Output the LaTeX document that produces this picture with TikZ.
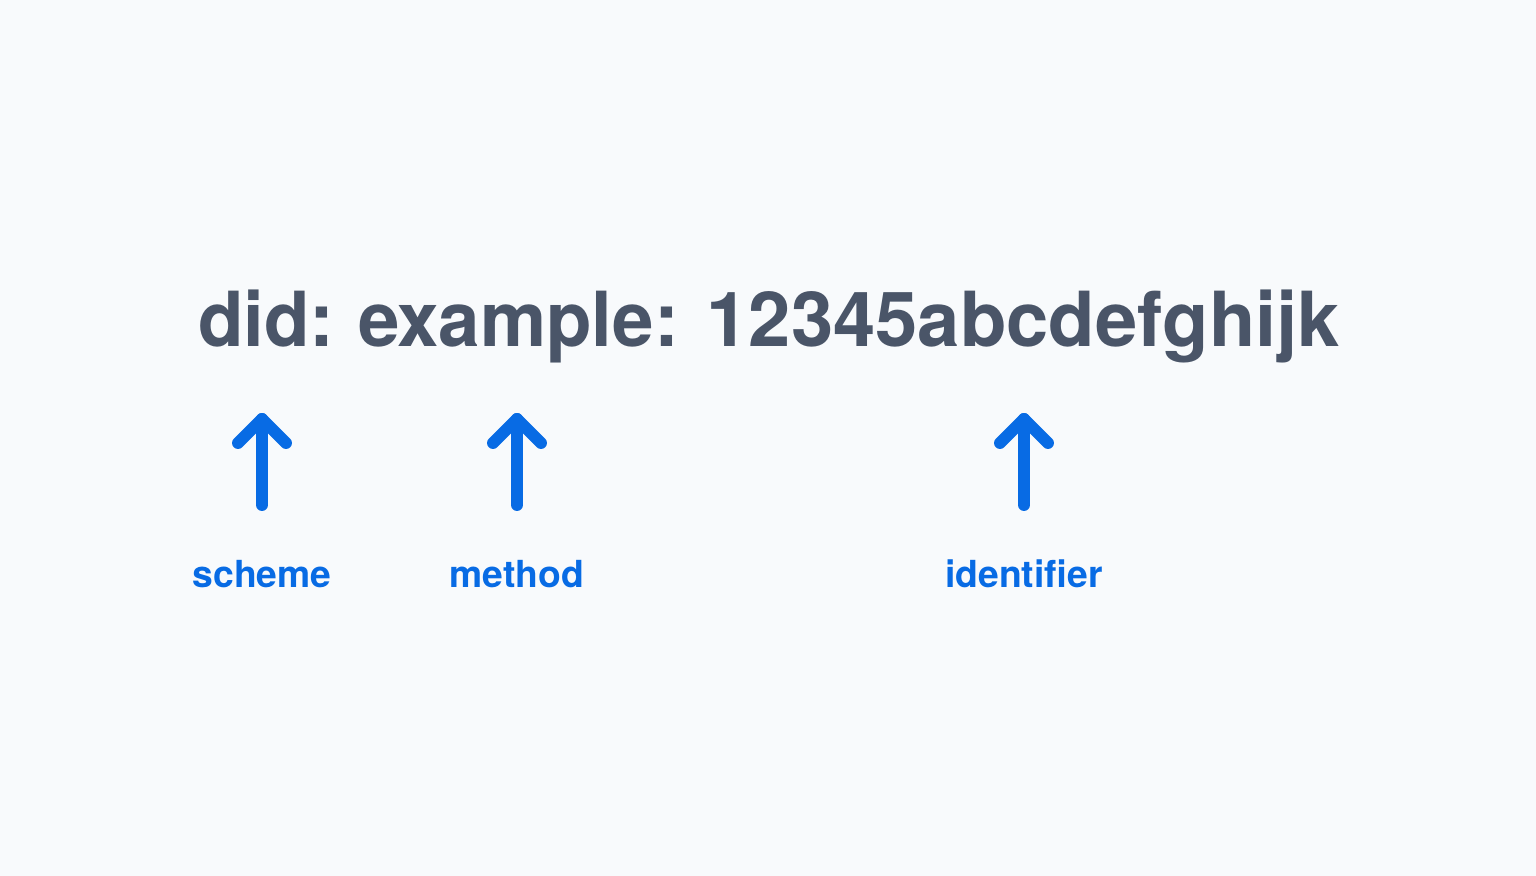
\documentclass[tikz,border=0pt]{standalone}
\usepackage{fontspec}
\setmainfont{TeX Gyre Heros}
\newfontfamily\headfont{TeX Gyre Heros}
\newfontfamily\headfontn[FakeStretch=0.98]{TeX Gyre Heros}
\definecolor{bgc}{RGB}{248,250,252}
\definecolor{txtgray}{RGB}{74,85,104}
\definecolor{accblue}{RGB}{8,107,228}
\tikzset{
  didpart/.style={inner sep=0pt, outer sep=0pt, text=txtgray, font=\headfont\bfseries\fontsize{21.6}{26}\selectfont},
  didpartn/.style={didpart, font=\headfontn\bfseries\fontsize{21.6}{26}\selectfont},
  partlabel/.style={inner sep=0pt, outer sep=0pt, text=accblue, font=\bfseries\fontsize{10.6}{13}\selectfont},
  arrowline/.style={draw=accblue, line width=3.4pt, line cap=round, line join=round},
}
\begin{document}
\begin{tikzpicture}[x=0.01cm, y=-0.01cm]
\fill[bgc] (0,0) rectangle (1536,876);
\useasboundingbox (0,0) rectangle (1536,876);

\node[didpartn, anchor=base west] (did) at (198,347) {did:};
\node[didpartn, anchor=base west] (method) at (358,347) {example:};
\node[didpart, anchor=base east] (ident) at (1340,347) {12345abcdefghijk};

\node[partlabel, anchor=base] (lscheme) at (262,587) {scheme};
\node[partlabel, anchor=base] (lmethod) at (517,587) {method};
\node[partlabel, anchor=base] (lident) at (1024,587) {identifier};

\coordinate (tip1) at (262,419);
\coordinate (tail1) at (262,505);
\coordinate (tip2) at (517,419);
\coordinate (tail2) at (517,505);
\coordinate (tip3) at (1024,419);
\coordinate (tail3) at (1024,505);

\foreach \i in {1,2,3}{
  \draw[arrowline] (tail\i) -- (tip\i);
  \draw[arrowline] ([shift={(-24,24)}]tip\i) -- (tip\i) -- ([shift={(24,24)}]tip\i);
}
\end{tikzpicture}
\end{document}
